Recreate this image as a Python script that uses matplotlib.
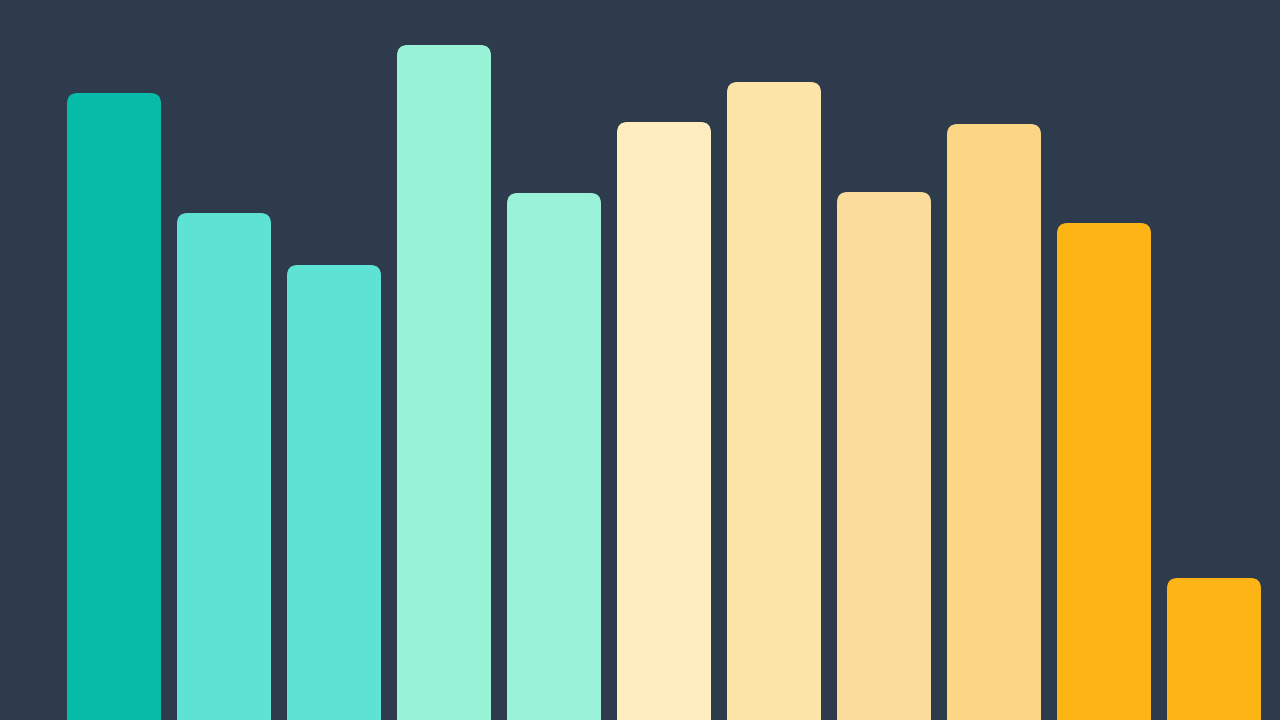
import matplotlib
matplotlib.use("Agg")
import matplotlib.pyplot as plt
from matplotlib.patches import FancyBboxPatch

categories = list(range(11))
values = [627, 507, 455, 675, 527, 598, 638, 528, 596, 497, 142]
colors = ["#07BBA9", "#5DE2D3", "#5DE2D3", "#98F2D6", "#9AF3D8",
          "#FEEDBF", "#FDE5A9", "#FCDC9C", "#FBD685", "#FDB515", "#FDB414"]

bg = "#2D3B4C"
fig = plt.figure(figsize=(12.8, 7.2), dpi=100, facecolor=bg)
ax = fig.add_axes([0, 0, 1, 1])
ax.set_facecolor(bg)

width = 94 / 110
bars = ax.bar(categories, values, width=width, color=colors)
ax.set_xlim(-114 / 110, -114 / 110 + 1280 / 110)
ax.set_ylim(0, 720)

# replace each bar with a rounded version of the same geometry
for b, c in zip(bars, colors):
    x, y = b.get_x(), b.get_y()
    w, h = b.get_width(), b.get_height()
    b.set_visible(False)
    p = FancyBboxPatch((x, y - 30), w, h + 30,
                       boxstyle="round,pad=0,rounding_size=0.095",
                       mutation_aspect=110, facecolor=c, edgecolor="none")
    ax.add_patch(p)

ax.axis("off")
fig.savefig("out.png", dpi=100, facecolor=bg)
